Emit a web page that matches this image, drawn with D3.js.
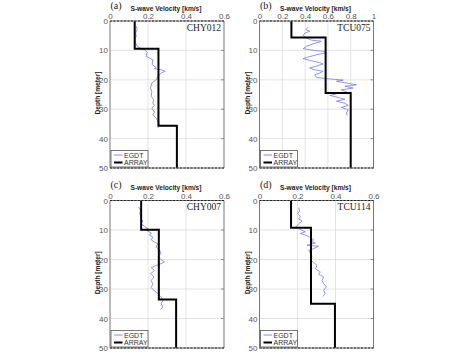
<!DOCTYPE html>
<html><head><meta charset="utf-8">
<script src="https://cdn.jsdelivr.net/npm/d3@7"></script>
<style>body{margin:0;background:#fff}svg{display:block}</style>
</head><body>
<script>
// ---- data ----
const panelLabels = ["(a)", "(b)", "(c)", "(d)"];
const stations = ["CHY012", "TCU075", "CHY007", "TCU114"];
const xMaxes = [0.6, 1, 0.6, 0.6];
const xTicksSmall = [0, 0.2, 0.4, 0.6];
const xTicksLarge = [0, 0.2, 0.4, 0.6, 0.8, 1];
const depthTicks = [0, 10, 20, 30, 40, 50];
const seriesNames = ["EGDT", "ARRAY"];
const xTitle = "S-wave Velocity [km/s]";
const yTitle = "Depth [meter]";

// ARRAY step profiles: layer boundary depths and layer velocities
const arrayDepthA = [0, 9.4, 35.6, 50];
const arrayVelA = [0.13, 0.255, 0.352];
const arrayDepthB = [0, 5.6, 24.5, 50];
const arrayVelB = [0.28, 0.58, 0.80];
const arrayDepthC = [0, 9.9, 33.6, 50];
const arrayVelC = [0.164, 0.257, 0.348];
const arrayDepthD = [0, 9.2, 35, 50];
const arrayVelD = [0.166, 0.271, 0.397];

// EGDT profiles
const egdtDepthA = [1.8,2.9,4.1,5.2,6.3,7.5,8.6,9.4,9.8,10.7,12,12.6,13.2,14.9,15.8,16.2,16.6,17.1,17.7,18.8,20,21.1,22.8,23.9,25.6,26.8,27.9,28.7,29.6,31,31.9,33,34.1,35.3,36.4];
const egdtVelA = [0.138,0.143,0.135,0.138,0.129,0.135,0.143,0.164,0.182,0.196,0.19,0.208,0.225,0.222,0.243,0.234,0.27,0.29,0.27,0.252,0.243,0.22,0.213,0.22,0.217,0.231,0.225,0.234,0.22,0.234,0.225,0.243,0.252,0.26,0.252];
const egdtDepthB = [2.2,2.9,3.5,4.1,4.9,5.8,6.5,6.9,7.6,8.6,9.4,9.9,10.3,10.8,11.5,12.4,12.8,13.5,14.2,14.6,15.4,16,16.6,17.1,17.7,18.3,19.2,19.7,20.1,20.5,21.1,21.7,22.2,22.8,23.4,24.1,24.8,25.3,26,26.6,27.3,28,28.7,29.4,30.2,31.3,32.1];
const egdtVelB = [0.427,0.406,0.44,0.398,0.383,0.412,0.456,0.544,0.485,0.412,0.383,0.456,0.558,0.588,0.5,0.412,0.383,0.456,0.529,0.558,0.494,0.44,0.485,0.558,0.529,0.485,0.5,0.617,0.734,0.675,0.763,0.85,0.749,0.822,0.719,0.763,0.675,0.617,0.69,0.749,0.675,0.749,0.778,0.719,0.778,0.763,0.769];
const egdtDepthC = [2.2,3.3,4.5,5.4,6.2,6.9,7.9,8.8,9.5,10.1,11,11.8,12.4,13.3,14.1,14.6,15.8,16.7,18,18.9,20.1,20.8,21.4,22,22.8,23.7,24.8,25.9,27.1,28.4,29.5,30.7,31.6,32.7,33.8,35,36.1,37];
const egdtVelC = [0.15,0.161,0.156,0.164,0.159,0.173,0.164,0.182,0.199,0.19,0.217,0.208,0.225,0.217,0.234,0.252,0.243,0.26,0.269,0.252,0.269,0.287,0.269,0.243,0.217,0.234,0.213,0.231,0.217,0.225,0.217,0.234,0.252,0.269,0.278,0.269,0.278,0.266];
const egdtDepthD = [2.4,3.6,4.5,5.4,6.3,6.9,7.9,8.8,9.7,10.1,10.6,11.2,11.9,12.6,13.3,14,14.4,15.2,15.5,16.3,16.9,17.8,18.9,20.1,21,22,23.1,24.2,25,25.9,27.1,28.2,29.3,30.5,31.6,32.5];
const egdtVelD = [0.206,0.211,0.2,0.215,0.206,0.224,0.206,0.194,0.211,0.224,0.241,0.215,0.25,0.268,0.285,0.276,0.294,0.25,0.311,0.285,0.259,0.268,0.276,0.268,0.285,0.303,0.294,0.32,0.311,0.338,0.329,0.338,0.352,0.338,0.346,0.334];

const arrayDepths = [arrayDepthA, arrayDepthB, arrayDepthC, arrayDepthD];
const arrayVels = [arrayVelA, arrayVelB, arrayVelC, arrayVelD];
const egdtDepths = [egdtDepthA, egdtDepthB, egdtDepthC, egdtDepthD];
const egdtVels = [egdtVelA, egdtVelB, egdtVelC, egdtVelD];

// ---- layout ----
const W = 474, H = 357;
const boxes = [
  {x: 110, y: 21, w: 114, h: 147},
  {x: 259.5, y: 21, w: 114, h: 147},
  {x: 110, y: 200.5, w: 114, h: 147.5},
  {x: 259.5, y: 200.5, w: 114, h: 147.5}
];
const sans = "'Liberation Sans', Arial, sans-serif";
const serif = "'Liberation Serif', 'Times New Roman', serif";
const egdtColor = "#7878e8";

const svg = d3.select("body").append("svg").attr("width", W).attr("height", H);

boxes.forEach((b, i) => {
  const x = d3.scaleLinear().domain([0, xMaxes[i]]).range([b.x, b.x + b.w]);
  const y = d3.scaleLinear().domain([0, 50]).range([b.y, b.y + b.h]);
  const xt = xMaxes[i] === 1 ? xTicksLarge : xTicksSmall;
  const g = svg.append("g");

  // grid
  g.append("g").selectAll("line").data(xt.slice(1, -1)).join("line")
    .attr("x1", d => x(d)).attr("x2", d => x(d))
    .attr("y1", b.y).attr("y2", b.y + b.h)
    .attr("stroke", "#dcdcdc").attr("stroke-width", 0.8);
  g.append("g").selectAll("line").data(depthTicks.slice(1, -1)).join("line")
    .attr("x1", b.x).attr("x2", b.x + b.w)
    .attr("y1", d => y(d)).attr("y2", d => y(d))
    .attr("stroke", "#dcdcdc").attr("stroke-width", 0.8);

  // x axis on top
  const xa = g.append("g").attr("transform", `translate(0,${b.y})`)
    .call(d3.axisTop(x).tickValues(xt).tickSize(0).tickPadding(2).tickFormat(d3.format("~g")));
  xa.select(".domain").remove();
  xa.selectAll("text").attr("font-family", sans).attr("font-size", 8).attr("fill", "#555");

  // y axis
  const ya = g.append("g").attr("transform", `translate(${b.x},0)`)
    .call(d3.axisLeft(y).tickValues(depthTicks).tickSize(0).tickPadding(2));
  ya.select(".domain").remove();
  ya.selectAll("text").attr("font-family", sans).attr("font-size", 8).attr("fill", "#555");

  // small inner ticks on right edge
  g.append("g").selectAll("line").data(depthTicks.slice(1, -1)).join("line")
    .attr("x1", b.x + b.w - 3).attr("x2", b.x + b.w)
    .attr("y1", d => y(d)).attr("y2", d => y(d))
    .attr("stroke", "#777").attr("stroke-width", 0.8);

  // ARRAY step line
  const dep = arrayDepths[i], vel = arrayVels[i];
  const pts = [];
  vel.forEach((v, k) => { pts.push([v, dep[k]]); pts.push([v, dep[k + 1]]); });
  // EGDT
  const ep = egdtDepths[i].map((d, k) => [egdtVels[i][k], d]);
  const line = d3.line().x(d => x(d[0])).y(d => y(d[1]));
  g.append("path").attr("d", line(ep)).attr("fill", "none")
    .attr("stroke", egdtColor).attr("stroke-width", 0.8);
  g.append("path").attr("d", line(pts)).attr("fill", "none")
    .attr("stroke", "#000").attr("stroke-width", 2);

  // frame
  g.append("line").attr("x1", b.x).attr("x2", b.x).attr("y1", b.y).attr("y2", b.y + b.h)
    .attr("stroke", "#777").attr("stroke-width", 1);
  g.append("line").attr("x1", b.x + b.w).attr("x2", b.x + b.w).attr("y1", b.y).attr("y2", b.y + b.h)
    .attr("stroke", "#777").attr("stroke-width", 1);
  [b.y, b.y + b.h].forEach(yy => {
    g.append("line").attr("x1", b.x).attr("x2", b.x + b.w).attr("y1", yy).attr("y2", yy)
      .attr("stroke", "#777").attr("stroke-width", 1);
    g.append("line").attr("x1", b.x).attr("x2", b.x + b.w).attr("y1", yy).attr("y2", yy)
      .attr("stroke", "#222").attr("stroke-width", 1).attr("stroke-dasharray", "2,1.5");
  });

  // titles
  g.append("text").attr("x", b.x + b.w / 2 - 1).attr("y", b.y - 10.5)
    .attr("text-anchor", "middle").attr("font-family", sans).attr("font-weight", "bold")
    .attr("font-size", 7.5).attr("textLength", 71).attr("lengthAdjust", "spacingAndGlyphs")
    .attr("fill", "#222").text(xTitle);
  g.append("text").attr("x", b.x + 0.5).attr("y", b.y - 12.5)
    .attr("font-family", serif).attr("font-size", 10).attr("fill", "#222").text(panelLabels[i]);
  g.append("text").attr("transform", `translate(${b.x - 10},${b.y + b.h * 0.49}) rotate(-90)`)
    .attr("text-anchor", "middle").attr("font-family", sans).attr("font-weight", "bold")
    .attr("font-size", 7).attr("textLength", 43).attr("lengthAdjust", "spacingAndGlyphs")
    .attr("fill", "#222").text(yTitle);
  g.append("text").attr("x", b.x + b.w - 3).attr("y", b.y + 9.5)
    .attr("text-anchor", "end").attr("font-family", serif).attr("font-size", 9.5)
    .attr("fill", "#222").text(stations[i]);

  // legend
  const lx = b.x + 1, ly = b.y + b.h - 17.5;
  g.append("rect").attr("x", lx).attr("y", ly).attr("width", 37).attr("height", 16.5)
    .attr("fill", "#fff").attr("stroke", "#555").attr("stroke-width", 0.8);
  const colors = [egdtColor, "#000"], widths = [0.9, 2];
  seriesNames.forEach((s, k) => {
    const yy = ly + 4.5 + k * 7.5;
    g.append("line").attr("x1", lx + 3).attr("x2", lx + 11.5).attr("y1", yy).attr("y2", yy)
      .attr("stroke", colors[k]).attr("stroke-width", widths[k]);
    g.append("text").attr("x", lx + 13).attr("y", yy + 2.5)
      .attr("font-family", sans).attr("font-size", 7).attr("fill", "#333").text(s);
  });
});
</script>
</body></html>
